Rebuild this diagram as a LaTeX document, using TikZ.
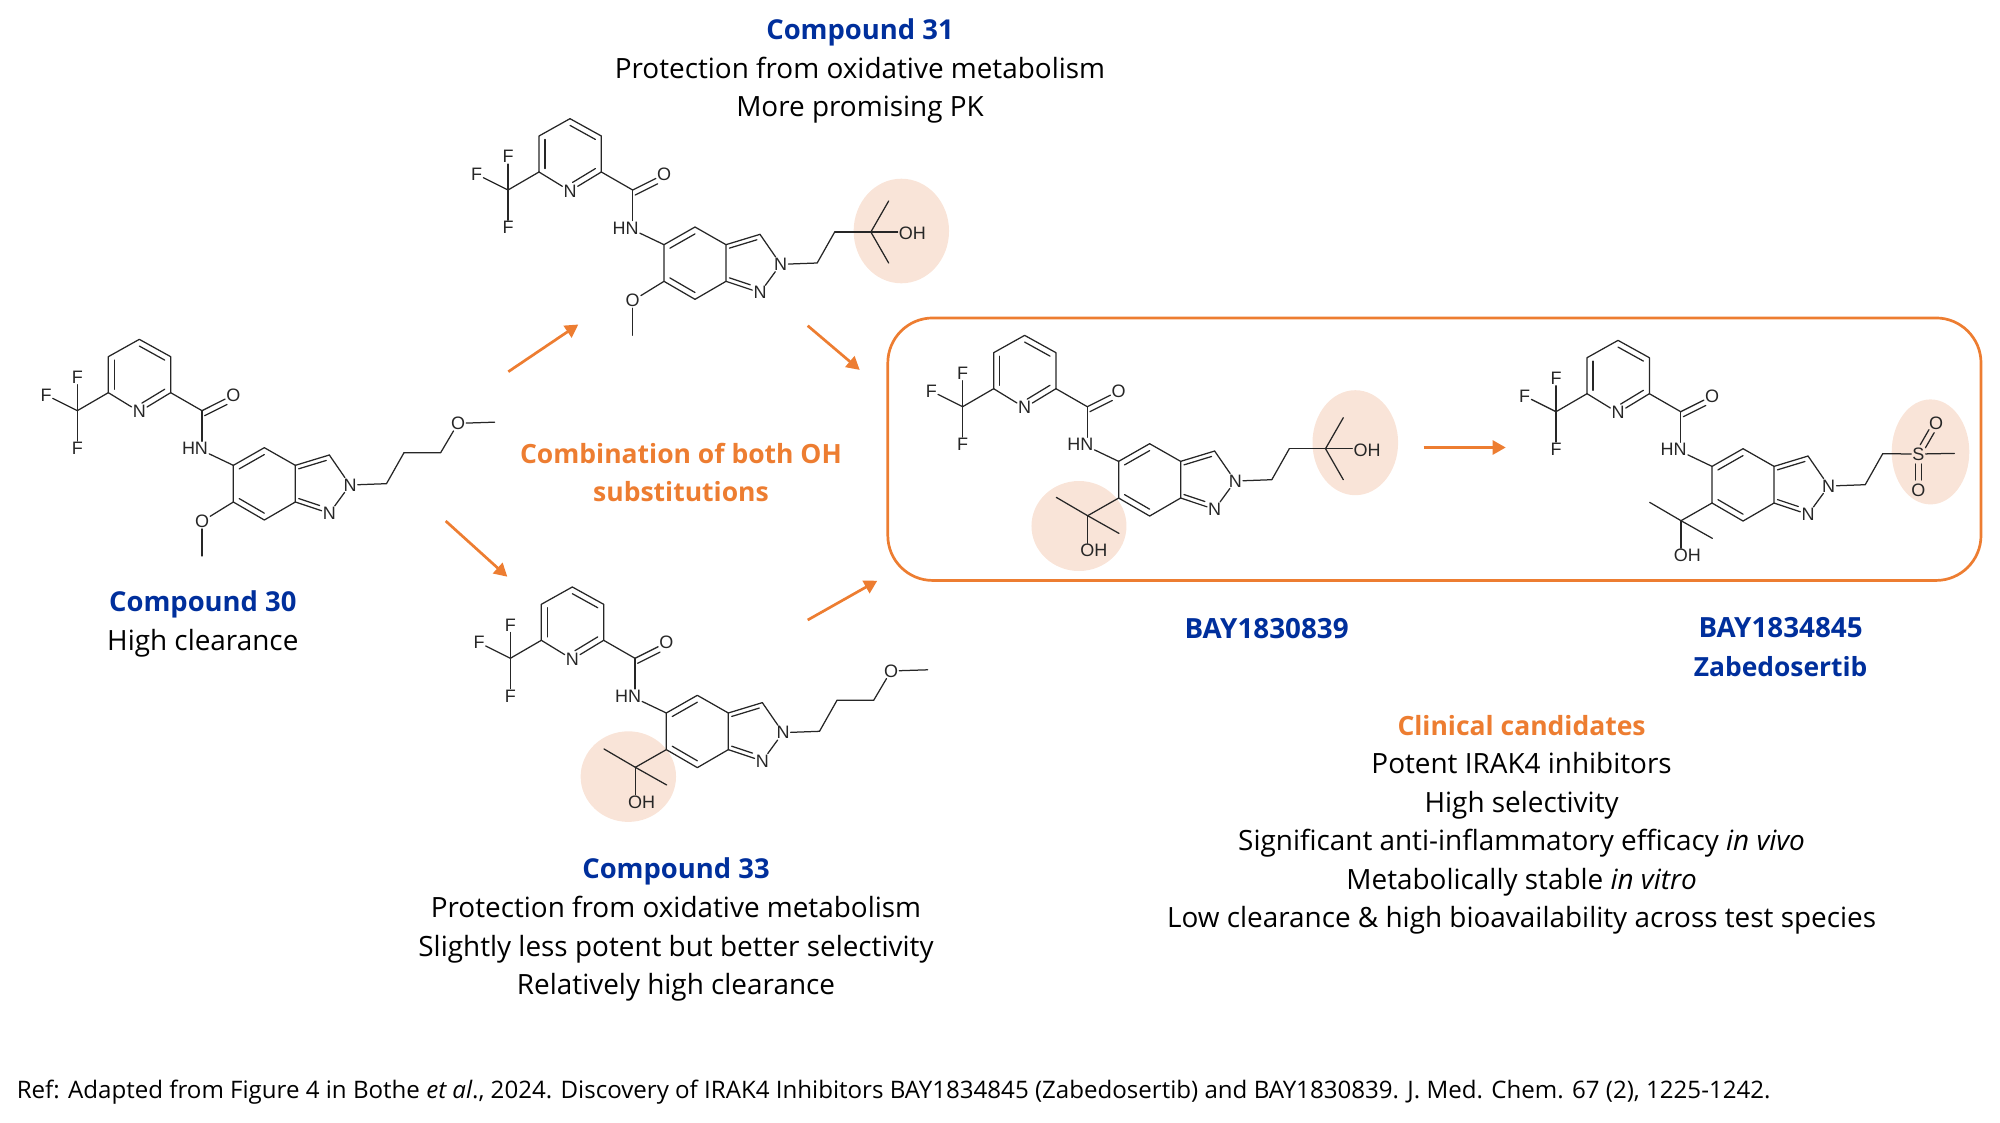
\documentclass[tikz,border=0pt]{standalone}
\usepackage{fontspec}
\setmainfont{Open Sans}
\newfontfamily\molfont{Liberation Sans}
\usetikzlibrary{calc,arrows.meta}
\definecolor{ttblue}{HTML}{002F9C}
\definecolor{ttorange}{HTML}{ED7D31}
\definecolor{peach}{HTML}{F9E4D8}
\definecolor{bondcol}{HTML}{262626}
\tikzset{
  bond/.style={draw=bondcol,line width=1.25pt,line cap=round,line join=round},
  atom/.style={font=\molfont\fontsize{18}{18}\selectfont,text=bondcol,inner sep=1pt},
  hilite/.style={fill=peach,draw=none},
  body/.style={font=\fontsize{27.9}{38.4}\selectfont,align=center,text=black,inner sep=0pt},
  headblue/.style={body,font=\bfseries\fontsize{27.4}{38.4}\selectfont,text=ttblue},
  headorange/.style={body,font=\bfseries\fontsize{26.5}{38.4}\selectfont,text=ttorange},
  reference/.style={font=\fontsize{24.1}{30}\selectfont,text=black,inner sep=0pt,anchor=west},
  flow/.style={draw=ttorange,line width=2.7pt,-{Triangle[length=13pt,width=14pt]}},
  frame/.style={draw=ttorange,line width=2.7pt,rounded corners=45pt},
}
\newcommand{\inbond}[3]{\draw[bond] ($(#1)!.19!(#3)$) -- ($(#2)!.19!(#3)$);}
\newcommand{\molcore}{%
  \coordinate (ac) at (0,0);
  \coordinate (p1) at (-93.67,-18);
  \coordinate (p2) at (-93.67,-54);
  \coordinate (p3) at (-62.67,-71.33);
  \coordinate (p4) at (-31.33,-54);
  \coordinate (p5) at (-31.33,-18);
  \coordinate (pc) at (-62.67,-36);
  \node[atom] (pN) at (-62.67,1) {N};
  \coordinate (cf) at (-124.67,0);
  \node[atom] (f1) at (-124.67,-33.3) {F};
  \node[atom] (f2) at (-156,-15.67) {F};
  \node[atom] (f3) at (-124.67,37.67) {F};
  \node[atom] (aO) at (31.33,-15.67) {O};
  \node[atom] (HN) at (-7,38) {HN};
  \coordinate (b1) at (31.33,54.67);
  \coordinate (b2) at (62.33,37);
  \coordinate (b3) at (93.33,54.67);
  \coordinate (b4) at (93.33,91.33);
  \coordinate (b5) at (62.33,109.33);
  \coordinate (b6) at (31.33,91.33);
  \coordinate (bc) at (62.33,73.33);
  \coordinate (c3) at (127.33,44.33);
  \coordinate (fc) at (111,73);
  \node[atom] (n2) at (148,74.33) {N};
  \node[atom] (n1) at (127.33,102.67) {N};
  \coordinate (ch1) at (184.5,73);
  \coordinate (ch2) at (202,42);
  \draw[bond] (p1) -- (p2) -- (p3) -- (p4) -- (p5);
  \draw[bond] (p5) -- (pN);
  \draw[bond] (pN) -- (p1);
  \inbond{p1}{p2}{pc}
  \inbond{p3}{p4}{pc}
  \draw[bond,shorten >=3pt] ($(p5)!.19!(pc)$) -- ($(pN)!.19!(pc)$);
  \draw[bond] (p1) -- (cf);
  \draw[bond] (cf) -- (f1);
  \draw[bond] (cf) -- (f2);
  \draw[bond] (cf) -- (f3);
  \draw[bond] (p5) -- (ac);
  \draw[bond] (ac) -- (aO);
  \draw[bond,shorten >=10pt] ($(ac)+(2.6,5)$) -- ($(aO)+(2.6,5)$);
  \draw[bond] (ac) -- (HN.north -| ac);
  \draw[bond] (HN.-20) -- (b1);
  \draw[bond] (b1) -- (b2) -- (b3) -- (b4) -- (b5) -- (b6) -- cycle;
  \inbond{b1}{b2}{bc}
  \inbond{b5}{b6}{bc}
  \draw[bond] (b3) -- (c3);
  \draw[bond] (c3) -- (n2);
  \draw[bond] (n2) -- (n1);
  \draw[bond] (n1) -- (b4);
  \inbond{b3}{c3}{fc}
  \draw[bond,shorten >=7pt] ($(b4)!.19!(fc)$) -- ($(n1)!.19!(fc)$);
  \draw[bond] (n2) -- (ch1) -- (ch2);
}
\newcommand{\subOMe}{%
  \node[atom] (mO) at (0,110.67) {O};
  \coordinate (mC) at (0,145.33);
  \draw[bond] (b6) -- (mO);
  \draw[bond] (mO) -- (mC);
}
\newcommand{\subCOH}{%
  \coordinate (tC) at (0.33,109);
  \coordinate (tL) at (-31,90.67);
  \coordinate (tR) at (31.67,126.67);
  \node[atom,anchor=north] (tO) at (6.67,136.5) {OH};
  \draw[bond] (b6) -- (tC);
  \draw[bond] (tL) -- (tC) -- (tR);
  \draw[bond] (tC) -- (tO.north -| tC);
}
\newcommand{\chainOMe}{%
  \coordinate (ch3) at (238.67,42);
  \node[atom] (eO) at (256,12.67) {O};
  \coordinate (eC) at (292.67,11.5);
  \draw[bond] (ch2) -- (ch3) -- (eO);
  \draw[bond] (eO) -- (eC);
}
\newcommand{\chainCOH}{%
  \coordinate (qC) at (238.2,42);
  \coordinate (qT) at (256,11);
  \coordinate (qB) at (256,73);
  \node[atom,anchor=west] (qO) at (265,43.5) {OH};
  \draw[bond] (ch2) -- (qC) -- (qO.west |- qC);
  \draw[bond] (qT) -- (qC) -- (qB);
}
\newcommand{\chainSulf}{%
  \node[atom] (sS) at (237.67,42.33) {S};
  \node[atom] (sT) at (255.33,11.67) {O};
  \node[atom] (sB) at (237.67,78.33) {O};
  \coordinate (sC) at (273.67,41.67);
  \draw[bond] (ch2) -- (sS);
  \draw[bond] (sS) -- (sC);
  \draw[bond,shorten <=9pt,shorten >=9pt] ($(sS)+(-2.6,-1.5)$) -- ($(sT)+(-2.6,-1.5)$);
  \draw[bond,shorten <=9pt,shorten >=9pt] ($(sS)+(2.6,1.5)$) -- ($(sT)+(2.6,1.5)$);
  \draw[bond,shorten <=10pt,shorten >=10pt] ($(sS)+(-3,0)$) -- ($(sB)+(-3,0)$);
  \draw[bond,shorten <=10pt,shorten >=10pt] ($(sS)+(3,0)$) -- ($(sB)+(3,0)$);
}
\begin{document}
\begin{tikzpicture}[x=1pt,y=-1pt]
\useasboundingbox (0,0) rectangle (2000,1122);
% Compound 30
\begin{scope}[shift={(202,410.67)},name prefix=a-]
  \molcore \subOMe \chainOMe
\end{scope}
% Compound 31
\begin{scope}[shift={(632.67,190)},name prefix=b-]
  \fill[hilite] (268.67,41) ellipse [x radius=47.7pt,y radius=52.3pt];
  \molcore \subOMe \chainCOH
\end{scope}
% Compound 33
\begin{scope}[shift={(635,658.3)},name prefix=c-]
  \fill[hilite] (-6.67,118.3) ellipse [x radius=47.7pt,y radius=45.3pt];
  \molcore \subCOH \chainOMe
\end{scope}
% frame
\node[frame,minimum width=1093.2pt,minimum height=262.5pt,inner sep=0pt] (box) at (1434.4,449.2) {};
% BAY1830839
\begin{scope}[shift={(1087.3,406.7)},name prefix=d-]
  \fill[hilite] (268,36) ellipse [x radius=42.8pt,y radius=52.5pt];
  \fill[hilite] (-8.33,119.3) ellipse [x radius=47.5pt,y radius=45pt];
  \molcore \subCOH \chainCOH
\end{scope}
% BAY1834845
\begin{scope}[shift={(1680.7,411.7)},name prefix=e-]
  \fill[hilite] (249.8,40.2) ellipse [x radius=38.8pt,y radius=52.5pt];
  \molcore \subCOH \chainSulf
\end{scope}
% arrows
\coordinate (s1) at (508.3,371.7); \coordinate (t1) at (578.3,324.5);
\coordinate (s2) at (445.7,521);   \coordinate (t2) at (507.3,576.7);
\coordinate (s3) at (807.7,325.7); \coordinate (t3) at (859.7,369.9);
\coordinate (s4) at (807.7,620);   \coordinate (t4) at (877.3,580.7);
\coordinate (s5) at (1423.5,447.5);\coordinate (t5) at (1505.7,447.5);
\draw[flow] (s1) -- (t1);
\draw[flow] (s2) -- (t2);
\draw[flow] (s3) -- (t3);
\draw[flow] (s4) -- (t4);
\draw[flow] (s5) -- (t5);
% text
\node[headblue] (h31) at (860,32) {Compound 31};
\node[body] (t31) at (860,90) {Protection from oxidative metabolism\\More promising PK};
\node[headblue] (h30) at (202.8,604.5) {Compound 30};
\node[body] (t30) at (202.8,643) {High clearance};
\node[headorange] (comb) at (681,472.5) {Combination of both OH\\substitutions};
\node[headblue] (h33) at (676,871) {Compound 33};
\node[body] (t33) at (676,949) {Protection from oxidative metabolism\\Slightly less potent but better selectivity\\Relatively high clearance};
\node[headblue,font=\bfseries\fontsize{27.8}{38.4}\selectfont] (bay1) at (1266.6,628.5) {BAY1830839};
\node[headblue,font=\bfseries\fontsize{27.8}{38.4}\selectfont] (bay2) at (1780.6,647.2) {BAY1834845\\{\fontsize{26.4}{38.4}\selectfont Zabedosertib}};
\node[headorange] (clin) at (1521.6,725.5) {Clinical candidates};
\node[body] (clintxt) at (1521.6,843.5) {Potent IRAK4 inhibitors\\High selectivity\\Significant anti-inflammatory efficacy \textit{in vivo}\\Metabolically stable \textit{in vitro}\\Low clearance \& high bioavailability across test species};
\node[reference] (ref) at (16.6,1092.5) {Ref: Adapted from Figure 4 in Bothe \textit{et al}., 2024. Discovery of IRAK4 Inhibitors BAY1834845 (Zabedosertib) and BAY1830839. J. Med. Chem. 67 (2), 1225-1242.};
\end{tikzpicture}
\end{document}
